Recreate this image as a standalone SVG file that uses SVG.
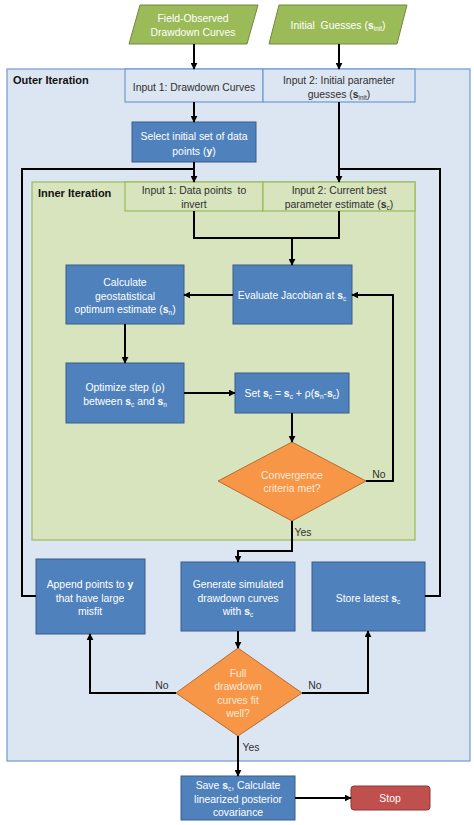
<svg xmlns="http://www.w3.org/2000/svg" width="474" height="825" viewBox="0 0 474 825">
<defs>
<marker id="ah" viewBox="0 0 10 10" refX="9" refY="5" markerWidth="7" markerHeight="7" orient="auto-start-reverse" markerUnits="userSpaceOnUse">
<path d="M0,0 L10,5 L0,10 z" fill="#000"/>
</marker>
<style>
text{font-family:"Liberation Sans",Arial,sans-serif;font-size:10.4px;text-anchor:middle;white-space:pre}
.w{fill:#ffffff}
.d{fill:#303030}
.t{font-weight:bold;font-size:11px;text-anchor:start;fill:#111}
.o{fill:#fde9d9}
.blue{fill:#4f81bd;stroke:#385d8a;stroke-width:1}
.green{fill:#9bbb59;stroke:#71893f;stroke-width:1}
.orange{fill:#f79646;stroke:#b66d31;stroke-width:1}
.outer{fill:#dce6f2;stroke:#6f9ad0;stroke-width:1.2}
.inner{fill:#d7e4bd;stroke:#9bbb59;stroke-width:1.2}
.red{fill:#c0504d;stroke:#8c3836;stroke-width:1}
.c{fill:none;stroke:#000;stroke-width:2}
.a{marker-end:url(#ah)}
.s{font-size:6.5px}
.b{font-weight:bold}
</style>
</defs>

<g id="outer-iteration">
<rect class="outer" x="7" y="69" width="463" height="692"/>
<text class="t" x="13" y="84">Outer Iteration</text>
</g>
<g id="outer-input1">
<rect class="outer" x="125" y="69" width="138" height="33"/>
<text class="d" x="194" y="91">Input 1: Drawdown Curves</text>
</g>
<g id="outer-input2">
<rect class="outer" x="263" y="69" width="152" height="33"/>
<text class="d" x="339" y="84">Input 2: Initial parameter</text>
<text class="d" x="339" y="98">guesses (<tspan class="b">s</tspan><tspan class="s" dy="2">init</tspan><tspan dy="-2">)</tspan></text>
</g>

<g id="inner-iteration">
<rect class="inner" x="32" y="182" width="383" height="358"/>
<text class="t" x="38" y="197">Inner Iteration</text>
</g>
<g id="inner-input1">
<rect class="inner" x="125" y="182" width="138" height="29"/>
<text class="d" x="194" y="194">Input 1: Data points  to</text>
<text class="d" x="194" y="208">invert</text>
</g>
<g id="inner-input2">
<rect class="inner" x="263" y="182" width="152" height="29"/>
<text class="d" x="339" y="194">Input 2: Current best</text>
<text class="d" x="339" y="208">parameter estimate (<tspan class="b">s</tspan><tspan class="s" dy="2">c</tspan><tspan dy="-2">)</tspan></text>
</g>

<g id="field-observed">
<polygon class="green" points="140,5 258,5 247,44 129,44"/>
<text class="w" x="193" y="22">Field-Observed</text>
<text class="w" x="193" y="36">Drawdown Curves</text>
</g>
<g id="initial-guesses">
<polygon class="green" points="279,5 407,5 397,44 269,44"/>
<text class="w" x="338" y="29">Initial  Guesses (<tspan class="b">s</tspan><tspan class="s" dy="2">init</tspan><tspan dy="-2">)</tspan></text>
</g>

<g id="select">
<rect class="blue" x="132" y="122" width="124" height="40"/>
<text class="w" x="194" y="140">Select initial set of data</text>
<text class="w" x="194" y="155">points (<tspan class="b">y</tspan>)</text>
</g>

<g id="calculate">
<rect class="blue" x="66" y="265" width="118" height="59"/>
<text class="w" x="125" y="286">Calculate</text>
<text class="w" x="125" y="300">geostatistical</text>
<text class="w" x="125" y="313">optimum estimate (<tspan class="b">s</tspan><tspan class="s" dy="2">n</tspan><tspan dy="-2">)</tspan></text>
</g>
<g id="jacobian">
<rect class="blue" x="233" y="265" width="119" height="59"/>
<text class="w" x="292" y="299">Evaluate Jacobian at <tspan class="b">s</tspan><tspan class="s" dy="2">c</tspan></text>
</g>
<g id="optimize">
<rect class="blue" x="66" y="363" width="118" height="60"/>
<text class="w" x="125" y="391">Optimize step (ρ)</text>
<text class="w" x="125" y="405">between <tspan class="b">s</tspan><tspan class="s" dy="2">c</tspan><tspan dy="-2"> and </tspan><tspan class="b">s</tspan><tspan class="s" dy="2">n</tspan></text>
</g>
<g id="set">
<rect class="blue" x="235" y="373" width="114" height="40"/>
<text class="w" x="292" y="397">Set <tspan class="b">s</tspan><tspan class="s" dy="2">c</tspan><tspan dy="-2"> = </tspan><tspan class="b">s</tspan><tspan class="s" dy="2">c</tspan><tspan dy="-2"> + ρ(</tspan><tspan class="b">s</tspan><tspan class="s" dy="2">n</tspan><tspan dy="-2">-</tspan><tspan class="b">s</tspan><tspan class="s" dy="2">c</tspan><tspan dy="-2">)</tspan></text>
</g>
<g id="convergence">
<polygon class="orange" points="292,442 366,481 292,521 218,481"/>
<text class="o" x="292" y="479">Convergence</text>
<text class="o" x="292" y="492">criteria met?</text>
</g>

<g id="append">
<rect class="blue" x="36" y="559" width="109" height="75"/>
<text class="w" x="90" y="588">Append points to <tspan class="b">y</tspan></text>
<text class="w" x="90" y="602">that have large</text>
<text class="w" x="90" y="615">misfit</text>
</g>
<g id="generate">
<rect class="blue" x="181" y="562" width="114" height="69"/>
<text class="w" x="238" y="588">Generate simulated</text>
<text class="w" x="238" y="602">drawdown curves</text>
<text class="w" x="238" y="615">with <tspan class="b">s</tspan><tspan class="s" dy="2">c</tspan></text>
</g>
<g id="store">
<rect class="blue" x="312" y="562" width="113" height="69"/>
<text class="w" x="368" y="602">Store latest <tspan class="b">s</tspan><tspan class="s" dy="2">c</tspan></text>
</g>
<g id="full-fit">
<polygon class="orange" points="238,648 302,693 238,736 176,693"/>
<text class="o" x="238" y="677">Full</text>
<text class="o" x="238" y="690">drawdown</text>
<text class="o" x="238" y="704">curves fit</text>
<text class="o" x="238" y="717">well?</text>
</g>

<g id="save">
<rect class="blue" x="181" y="776" width="114" height="44"/>
<text class="w" x="238" y="789">Save <tspan class="b">s</tspan><tspan class="s" dy="2">c</tspan><tspan dy="-2">, Calculate</tspan></text>
<text class="w" x="238" y="803">linearized posterior</text>
<text class="w" x="238" y="816">covariance</text>
</g>
<g id="stop">
<rect class="red" x="351" y="786" width="79" height="24" rx="3"/>
<text class="w" x="390" y="802">Stop</text>
</g>

<g id="connectors">
<path class="c a" d="M194,44 V69"/>
<path class="c a" d="M339,44 V69"/>
<path class="c a" d="M194,102 V122"/>
<path class="c a" d="M194,162 V182"/>
<path class="c" d="M339,102 V169"/>
<path class="c a" d="M339,169 V182"/>
<path class="c" d="M194,211 V238 H339 V211"/>
<path class="c a" d="M292,238 V265"/>
<path class="c a" d="M233,295 H184"/>
<path class="c a" d="M125,324 V363"/>
<path class="c a" d="M184,393 H235"/>
<path class="c a" d="M292,413 V442"/>
<path class="c a" d="M366,481 H393 V295 H352"/>
<path class="c a" d="M292,521 V551 H238 V562"/>
<path class="c a" d="M238,631 V648"/>
<path class="c a" d="M176,693 H90 V634"/>
<path class="c a" d="M302,693 H368 V631"/>
<path class="c" d="M36,596 H22 V169 H194"/>
<path class="c" d="M425,596 H440 V169 H339"/>
<path class="c a" d="M238,736 V776"/>
<path class="c a" d="M295,798 H351"/>
<text class="d" x="379" y="478">No</text>
<text class="d" x="303" y="536">Yes</text>
<text class="d" x="162" y="689">No</text>
<text class="d" x="315" y="689">No</text>
<text class="d" x="251" y="751">Yes</text>
</g>
</svg>
